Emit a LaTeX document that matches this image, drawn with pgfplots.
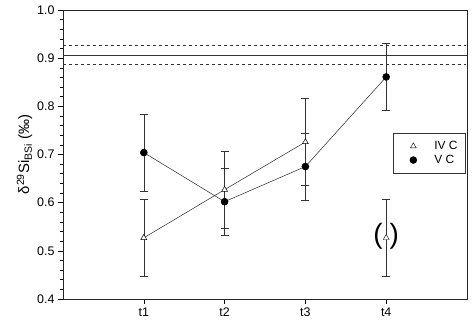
\documentclass[border=0pt]{standalone}
\usepackage{fontspec}
\setmainfont{Liberation Sans}
\usepackage{pgfplots}
\pgfplotsset{compat=1.18}
\begin{document}
\begin{tikzpicture}
\begin{axis}[
  at={(0,0)}, anchor=south west,
  scale only axis, width=404bp, height=289bp,
  xmin=0, xmax=5, ymin=0.4, ymax=1.0,
  xtick={1,2,3,4}, xticklabels={t1,t2,t3,t4},
  ytick={0.4,0.5,0.6,0.7,0.8,0.9,1.0},
  minor y tick num=4,
  yticklabel style={/pgf/number format/fixed,/pgf/number format/precision=1,/pgf/number format/fixed zerofill},
  /pgf/number format/assume math mode=true,
  tick align=outside, xtick pos=bottom, ytick pos=left,
  major tick length=5bp, minor tick length=3bp,
  tick style={black, line width=0.6pt},
  ticklabel style={font=\fontsize{12.5}{14}\selectfont},
  ylabel={δ\textsuperscript{29}Si\textsubscript{BSi} (‰)},
  ylabel style={font=\fontsize{15}{17}\selectfont, yshift=-2bp},
  axis line style={line width=0.7pt, black!85},
  legend style={at={(rel axis cs:0.997,0.574)}, anchor=north east, draw=black!80, font=\fontsize{12}{13}\selectfont, row sep=0bp, inner xsep=6bp, inner ysep=6bp, legend cell align=left},
  /tikz/every odd column/.append style={column sep=11bp},
  legend image code/.code={\path[draw=none, fill=none] (0bp,-6.5bp) rectangle (22bp,6.5bp); \draw[#1] plot coordinates {(14bp,0bp)};},
  error bars/error bar style={line width=0.6pt, black!80},
  error bars/error mark options={rotate=90, mark size=4bp, line width=0.6pt, black!80},
]
\addlegendimage{only marks, mark=triangle*, mark size=3.4bp, mark options={fill=white, draw=black}}
\addlegendentry{IV C}
\addlegendimage{only marks, mark=*, mark size=3.5bp, mark options={fill=black, draw=black}}
\addlegendentry{V C}
% reference lines
\addplot[black!80, line width=0.6pt, forget plot] coordinates {(0,0.906) (5,0.906)};
\addplot[black!80, dashed, line width=0.6pt, forget plot] coordinates {(0,0.926) (5,0.926)};
\addplot[black!80, dashed, line width=0.6pt, forget plot] coordinates {(0,0.887) (5,0.887)};
% IV C
\addplot[black!85, line width=0.5pt, mark=triangle*, mark size=3.4bp, mark options={fill=white, draw=black}, forget plot, error bars/.cd, y dir=both, y explicit]
  coordinates {(1,0.527) +- (0,0.08) (2,0.627) +- (0,0.08) (3,0.726) +- (0,0.09)};
% V C
\addplot[black!85, line width=0.5pt, mark=*, mark size=3.5bp, mark options={fill=black, draw=black}, forget plot, error bars/.cd, y dir=both, y explicit]
  coordinates {(1,0.704) +- (0,0.08) (2,0.602) +- (0,0.07) (3,0.675) +- (0,0.07) (4,0.861) +- (0,0.07)};
% isolated IV C at t4
\addplot[only marks, mark=triangle*, mark size=3.4bp, mark options={fill=white, draw=black}, forget plot, error bars/.cd, y dir=both, y explicit]
  coordinates {(4,0.527) +- (0,0.08)};
\node at (axis cs:4,0.531) {\fontsize{28}{28}\selectfont(\hspace{7bp})};
\end{axis}
\pgfresetboundingbox
\useasboundingbox (-63bp,-24bp) rectangle (411bp,299bp);
\end{tikzpicture}
\end{document}
